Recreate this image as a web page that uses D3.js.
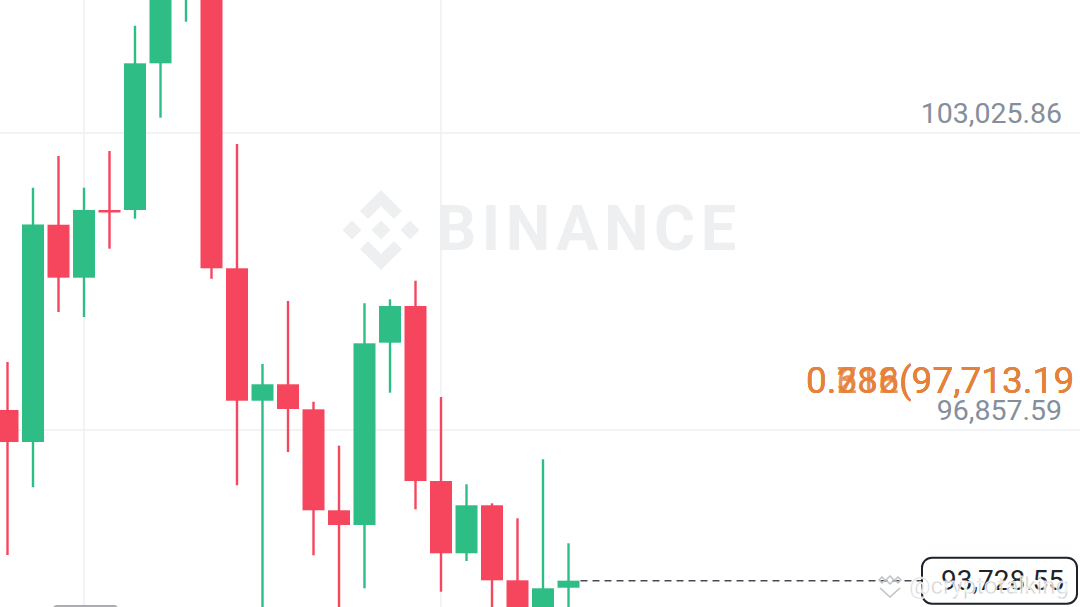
<!DOCTYPE html>
<html>
<head>
<meta charset="utf-8">
<script src="https://cdn.jsdelivr.net/npm/d3@7"></script>
<style>
  html, body { margin: 0; padding: 0; background: #ffffff; overflow: hidden; }
  svg { display: block; }
</style>
</head>
<body>
<svg id="chart" width="1080" height="607"></svg>
<script>
// ---- data ----
const candles = ["c01","c02","c03","c04","c05","c06","c07","c08","c09","c10","c11","c12",
                 "c13","c14","c15","c16","c17","c18","c19","c20","c21","c22","c23"];
const opens  = [97273, 96608, 101121, 100021, 101427, 101427, 104473, 106000, 106700, 100216, 97466, 97807,
                97287, 95190, 94885, 98671, 99433, 95798, 94297, 95294, 93736, 93078, 93582];
const highs  = [98270, 101890, 102548, 101890, 102652, 105254, 106619, 107000, 107100, 102797, 98228, 99537,
                97445, 96532, 99489, 99572, 99958, 97543, 95730, 95335, 95024, 96249, 94505];
const lows   = [94261, 95668, 99308, 99205, 100623, 101246, 103344, 105337, 100000, 95709, 92289, 96401,
                94255, 92808, 93570, 97632, 95211, 93499, 94137, 92912, 92496, 92704, 92808];
const closes = [96608, 101126, 100021, 101427, 101375, 104473, 106307, 106700, 100216, 97466, 97807, 97294,
                95190, 94885, 98658, 99433, 95798, 94297, 95294, 93736, 92870, 93570, 93728.55];

const gridPrices = [103025.86, 96857.59];
const gridLabels = ["103,025.86", "96,857.59"];
const fibLevels = ["0.236", "0.382", "0.618", "0.786"];
const fibPrice = 97713.19;
const fibPriceLabel = "97,713.19";
const lastPrice = 93728.55;
const lastPriceLabel = "93,728.55";
const vGridCandles = ["c04", "c18"];

// ---- scales ----
const W = 1080, H = 607;
const svg = d3.select("#chart");
const step = 25.5;
const x = d3.scaleBand()
  .domain(candles)
  .range([7.5 - step / 2, 7.5 - step / 2 + step * candles.length])
  .paddingInner(3.5 / 25.5)
  .paddingOuter(3.5 / 51);
const y = d3.scaleLinear()
  .domain([96857.59, 103025.86])
  .range([430, 133]);

const GREEN = "#2ebd85", RED = "#f6465d";
const cx = c => x(c) + x.bandwidth() / 2;

// ---- grid ----
svg.append("g").selectAll("line.h").data(gridPrices).join("line")
  .attr("x1", 0).attr("x2", W)
  .attr("y1", d => y(d)).attr("y2", d => y(d))
  .attr("stroke", "#eeeff1").attr("stroke-width", 1.5);
svg.append("g").selectAll("line.v").data(vGridCandles).join("line")
  .attr("x1", d => cx(d)).attr("x2", d => cx(d))
  .attr("y1", 0).attr("y2", H)
  .attr("stroke", "#eeeff1").attr("stroke-width", 1.5);

// ---- Binance watermark ----
const wm = svg.append("g").attr("transform", "translate(381,230)").attr("fill", "#eeeff0");
const dia = (cxp, cyp, h) => `M${cxp},${cyp - h}L${cxp + h},${cyp}L${cxp},${cyp + h}L${cxp - h},${cyp}Z`;
wm.append("path").attr("d", dia(0, 0, 9.5));
wm.append("path").attr("d", dia(-29, 0, 9.5));
wm.append("path").attr("d", dia(29, 0, 9.5));
wm.append("path").attr("d", "M0,-40L21,-19L13,-11L0,-24L-13,-11L-21,-19Z");
wm.append("path").attr("d", "M0,40L21,19L13,11L0,24L-13,11L-21,19Z");
svg.append("text")
  .attr("x", 436).attr("y", 250)
  .attr("font-family", "Roboto, 'DejaVu Sans', sans-serif")
  .attr("font-weight", 700).attr("font-size", 63)
  .attr("letter-spacing", 5.5)
  .attr("fill", "#eeeff0")
  .text("BINANCE");

// ---- candles ----
const data = candles.map((c, i) => ({ c, o: opens[i], h: highs[i], l: lows[i], cl: closes[i] }));
const g = svg.append("g");
g.selectAll("line.wick").data(data).join("line")
  .attr("x1", d => cx(d.c)).attr("x2", d => cx(d.c))
  .attr("y1", d => y(d.h)).attr("y2", d => y(d.l))
  .attr("stroke", d => d.cl >= d.o ? GREEN : RED)
  .attr("stroke-width", 2.4);
g.selectAll("rect.body").data(data).join("rect")
  .attr("x", d => x(d.c))
  .attr("width", x.bandwidth())
  .attr("y", d => y(Math.max(d.o, d.cl)))
  .attr("height", d => Math.max(2.5, Math.abs(y(d.o) - y(d.cl))))
  .attr("fill", d => d.cl >= d.o ? GREEN : RED);

// ---- last price line ----
const lastC = candles[candles.length - 1];
svg.append("line")
  .attr("x1", x(lastC) + x.bandwidth() + 1).attr("x2", 921)
  .attr("y1", y(lastPrice)).attr("y2", y(lastPrice))
  .attr("stroke", "#474d57").attr("stroke-width", 1.5)
  .attr("stroke-dasharray", "7,5");

// ---- right labels ----
svg.append("g").selectAll("text").data(gridPrices).join("text")
  .attr("x", 1062).attr("y", d => y(d) - 10.5)
  .attr("text-anchor", "end")
  .attr("font-family", "Roboto, sans-serif").attr("font-size", 28.5)
  .attr("fill", "#848e9c")
  .text((d, i) => gridLabels[i]);

// fib labels (overlapping)
svg.append("g").selectAll("text").data(fibLevels).join("text")
  .attr("x", 806).attr("y", y(fibPrice) + 4.5)
  .attr("font-family", "Roboto, sans-serif").attr("font-size", 37)
  .attr("fill", "#e5813a").attr("fill-opacity", 0.85)
  .text(d => `${d}(${fibPriceLabel}`);

// ---- bottom-left partial label ----
svg.append("rect").attr("x", 53).attr("y", 605).attr("width", 65).attr("height", 12)
  .attr("rx", 4).attr("fill", "#a9adb3");

// ---- current price box ----
svg.append("rect")
  .attr("x", 922).attr("y", y(lastPrice) - 23)
  .attr("width", 155).attr("height", 46)
  .attr("rx", 10)
  .attr("fill", "#ffffff").attr("stroke", "#1e2329").attr("stroke-width", 2);
svg.append("text")
  .attr("x", 1064).attr("y", y(lastPrice) + 9.5)
  .attr("text-anchor", "end")
  .attr("font-family", "Roboto, sans-serif").attr("font-size", 28)
  .attr("fill", "#1e2329")
  .text(lastPriceLabel);

// ---- square watermark ----
const sq = svg.append("g").attr("transform", "translate(890,584)")
  .attr("fill", "none").attr("stroke", "#bfc1c3").attr("stroke-width", 1.5);
sq.append("path").attr("d", dia(0, -4, 4));
sq.append("path").attr("d", dia(-8, -4, 3));
sq.append("path").attr("d", dia(8, -4, 3));
sq.append("path").attr("d", "M-10,4L0,13L10,4");
svg.append("text")
  .attr("x", 909).attr("y", 594)
  .attr("font-family", "Roboto, sans-serif").attr("font-size", 24)
  .attr("fill", "#bdbfc1").attr("fill-opacity", 0.85)
  .attr("stroke", "#ffffff").attr("stroke-width", 1).attr("stroke-opacity", 0.8)
  .text("@cryptotalking");
</script>
</body>
</html>
